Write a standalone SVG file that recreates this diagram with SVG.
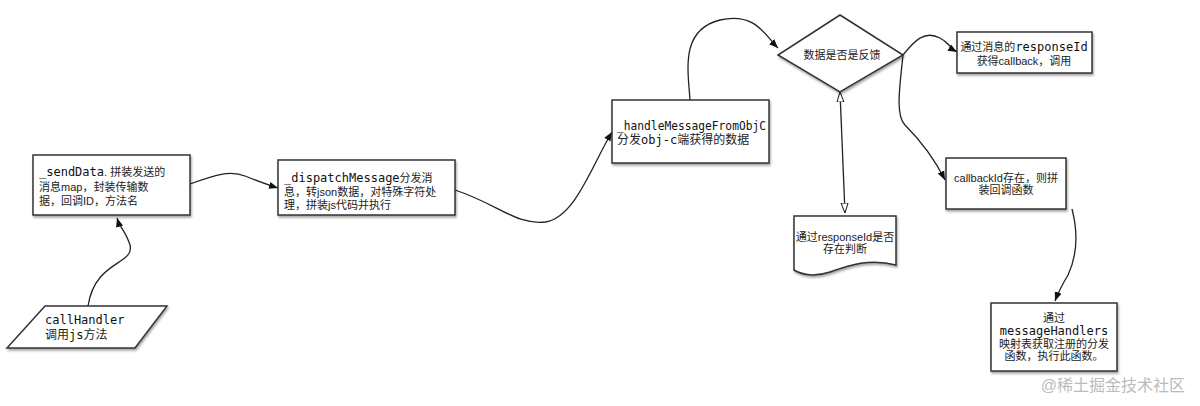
<svg xmlns="http://www.w3.org/2000/svg" width="1200" height="406" viewBox="0 0 1200 406">
<style>
.n{fill:#fff;stroke:#333;stroke-width:1.5;filter:url(#sh)}
.c{fill:none;stroke:#222;stroke-width:1.3}
.m{font-family:"DejaVu Sans Mono","Liberation Mono",monospace;font-size:12px;fill:#111}
.t{font-family:"Liberation Sans","Noto Sans CJK SC",sans-serif;font-size:11px;fill:#222}
</style>
<defs>
<filter id="sh" x="-10%" y="-10%" width="130%" height="140%"><feDropShadow dx="1" dy="2" stdDeviation="1.2" flood-opacity="0.35"/></filter>
<marker id="a" viewBox="0 0 10 10" refX="10" refY="5" markerWidth="9" markerHeight="9" orient="auto-start-reverse" markerUnits="userSpaceOnUse"><path d="M0,1L10,5L0,9z" fill="#111"/></marker>
<marker id="o" viewBox="0 0 10 10" refX="10" refY="5" markerWidth="10" markerHeight="10" orient="auto-start-reverse" markerUnits="userSpaceOnUse"><path d="M0,1.5L10,5L0,8.5z" fill="#fff" stroke="#222"/></marker>
</defs>
<g id="connectors">
<path class="c" d="M88,306 C95,260 135,265 130,245 C126,232 120,228 117,218" marker-end="url(#a)"/>
<path class="c" d="M190,184 C215,175 230,170 245,176 C255,180 265,184 278,188" marker-end="url(#a)"/>
<path class="c" d="M455,190 C500,205 515,225 545,222 C575,218 592,165 612,132" marker-end="url(#a)"/>
<path class="c" d="M690,100 C688,70 680,30 720,20 C755,12 765,35 778,48" marker-end="url(#a)"/>
<path class="c" d="M903,55 C915,40 925,30 940,38 C948,42 950,48 957,52" marker-end="url(#a)"/>
<path class="c" d="M903,55 C900,85 895,115 905,125 C920,140 935,160 945,180" marker-end="url(#a)"/>
<path class="c" d="M840,92 L845,213" marker-start="url(#o)" marker-end="url(#o)"/>
<path class="c" d="M1072,209 C1080,240 1075,260 1068,275 C1062,285 1058,293 1055,301" marker-end="url(#a)"/>
</g>
<g id="sendData"><rect class="n" x="33" y="155" width="157" height="60"/>
<text class="t" x="39" y="176"><tspan class="m">_sendData</tspan>. 拼装发送的</text>
<text class="t" x="39" y="191">消息map，封装传输数</text>
<text class="t" x="39" y="205">据，回调ID，方法名</text></g>
<g id="dispatchMessage"><rect class="n" x="278" y="160" width="177" height="55"/>
<text class="t" x="284" y="182"><tspan class="m">_dispatchMessage</tspan>分发消</text>
<text class="t" x="284" y="196">息，转json数据，对特殊字符处</text>
<text class="t" x="284" y="209">理，拼装js代码并执行</text></g>
<g id="callHandler"><polygon class="n" points="45,306 167,306 135,348 7,348"/>
<text class="m" x="45" y="324">callHandler</text>
<text class="t" x="45" y="339" style="font-size:12px">调用<tspan class="m">js</tspan>方法</text></g>
<g id="handleMessage"><rect class="n" x="612" y="100" width="157" height="63"/>
<text class="m" x="617" y="130" textLength="149" lengthAdjust="spacingAndGlyphs">_handleMessageFromObjC</text>
<text class="t" x="617" y="144" style="font-size:12px">分发<tspan class="m">obj-c</tspan>端获得的数据</text></g>
<g id="decision"><polygon class="n" points="840,15 903,55 840,92 778,55"/>
<text class="t" x="842" y="59" text-anchor="middle">数据是否是反馈</text></g>
<g id="responseId"><rect class="n" x="957" y="32" width="135" height="41"/>
<text class="t" x="1024" y="51" text-anchor="middle">通过消息的<tspan class="m">responseId</tspan></text>
<text class="t" x="1024" y="65" text-anchor="middle">获得callback，调用</text></g>
<g id="callbackId"><rect class="n" x="946" y="158" width="120" height="51"/>
<text class="t" x="1006" y="182" text-anchor="middle">callbackId存在，则拼</text>
<text class="t" x="1006" y="194" text-anchor="middle">装回调函数</text></g>
<g id="responseCheck"><path class="n" d="M794,216 H896 V265 C870,258 850,265 830,272 C815,277 802,275 794,270 Z"/>
<text class="t" x="845" y="241" text-anchor="middle">通过responseId是否</text>
<text class="t" x="845" y="253" text-anchor="middle">存在判断</text></g>
<g id="messageHandlers"><rect class="n" x="991" y="303" width="126" height="68"/>
<text class="t" x="1054" y="322" text-anchor="middle">通过</text>
<text class="m" x="1054" y="335" text-anchor="middle">messageHandlers</text>
<text class="t" x="1054" y="348" text-anchor="middle">映射表获取注册的分发</text>
<text class="t" x="1054" y="360" text-anchor="middle">函数，执行此函数。</text></g>
<text x="1185" y="391" text-anchor="end" style="font-family:'Liberation Sans','Noto Sans CJK SC',sans-serif;font-size:16px;fill:#bbb">@稀土掘金技术社区</text>
</svg>
